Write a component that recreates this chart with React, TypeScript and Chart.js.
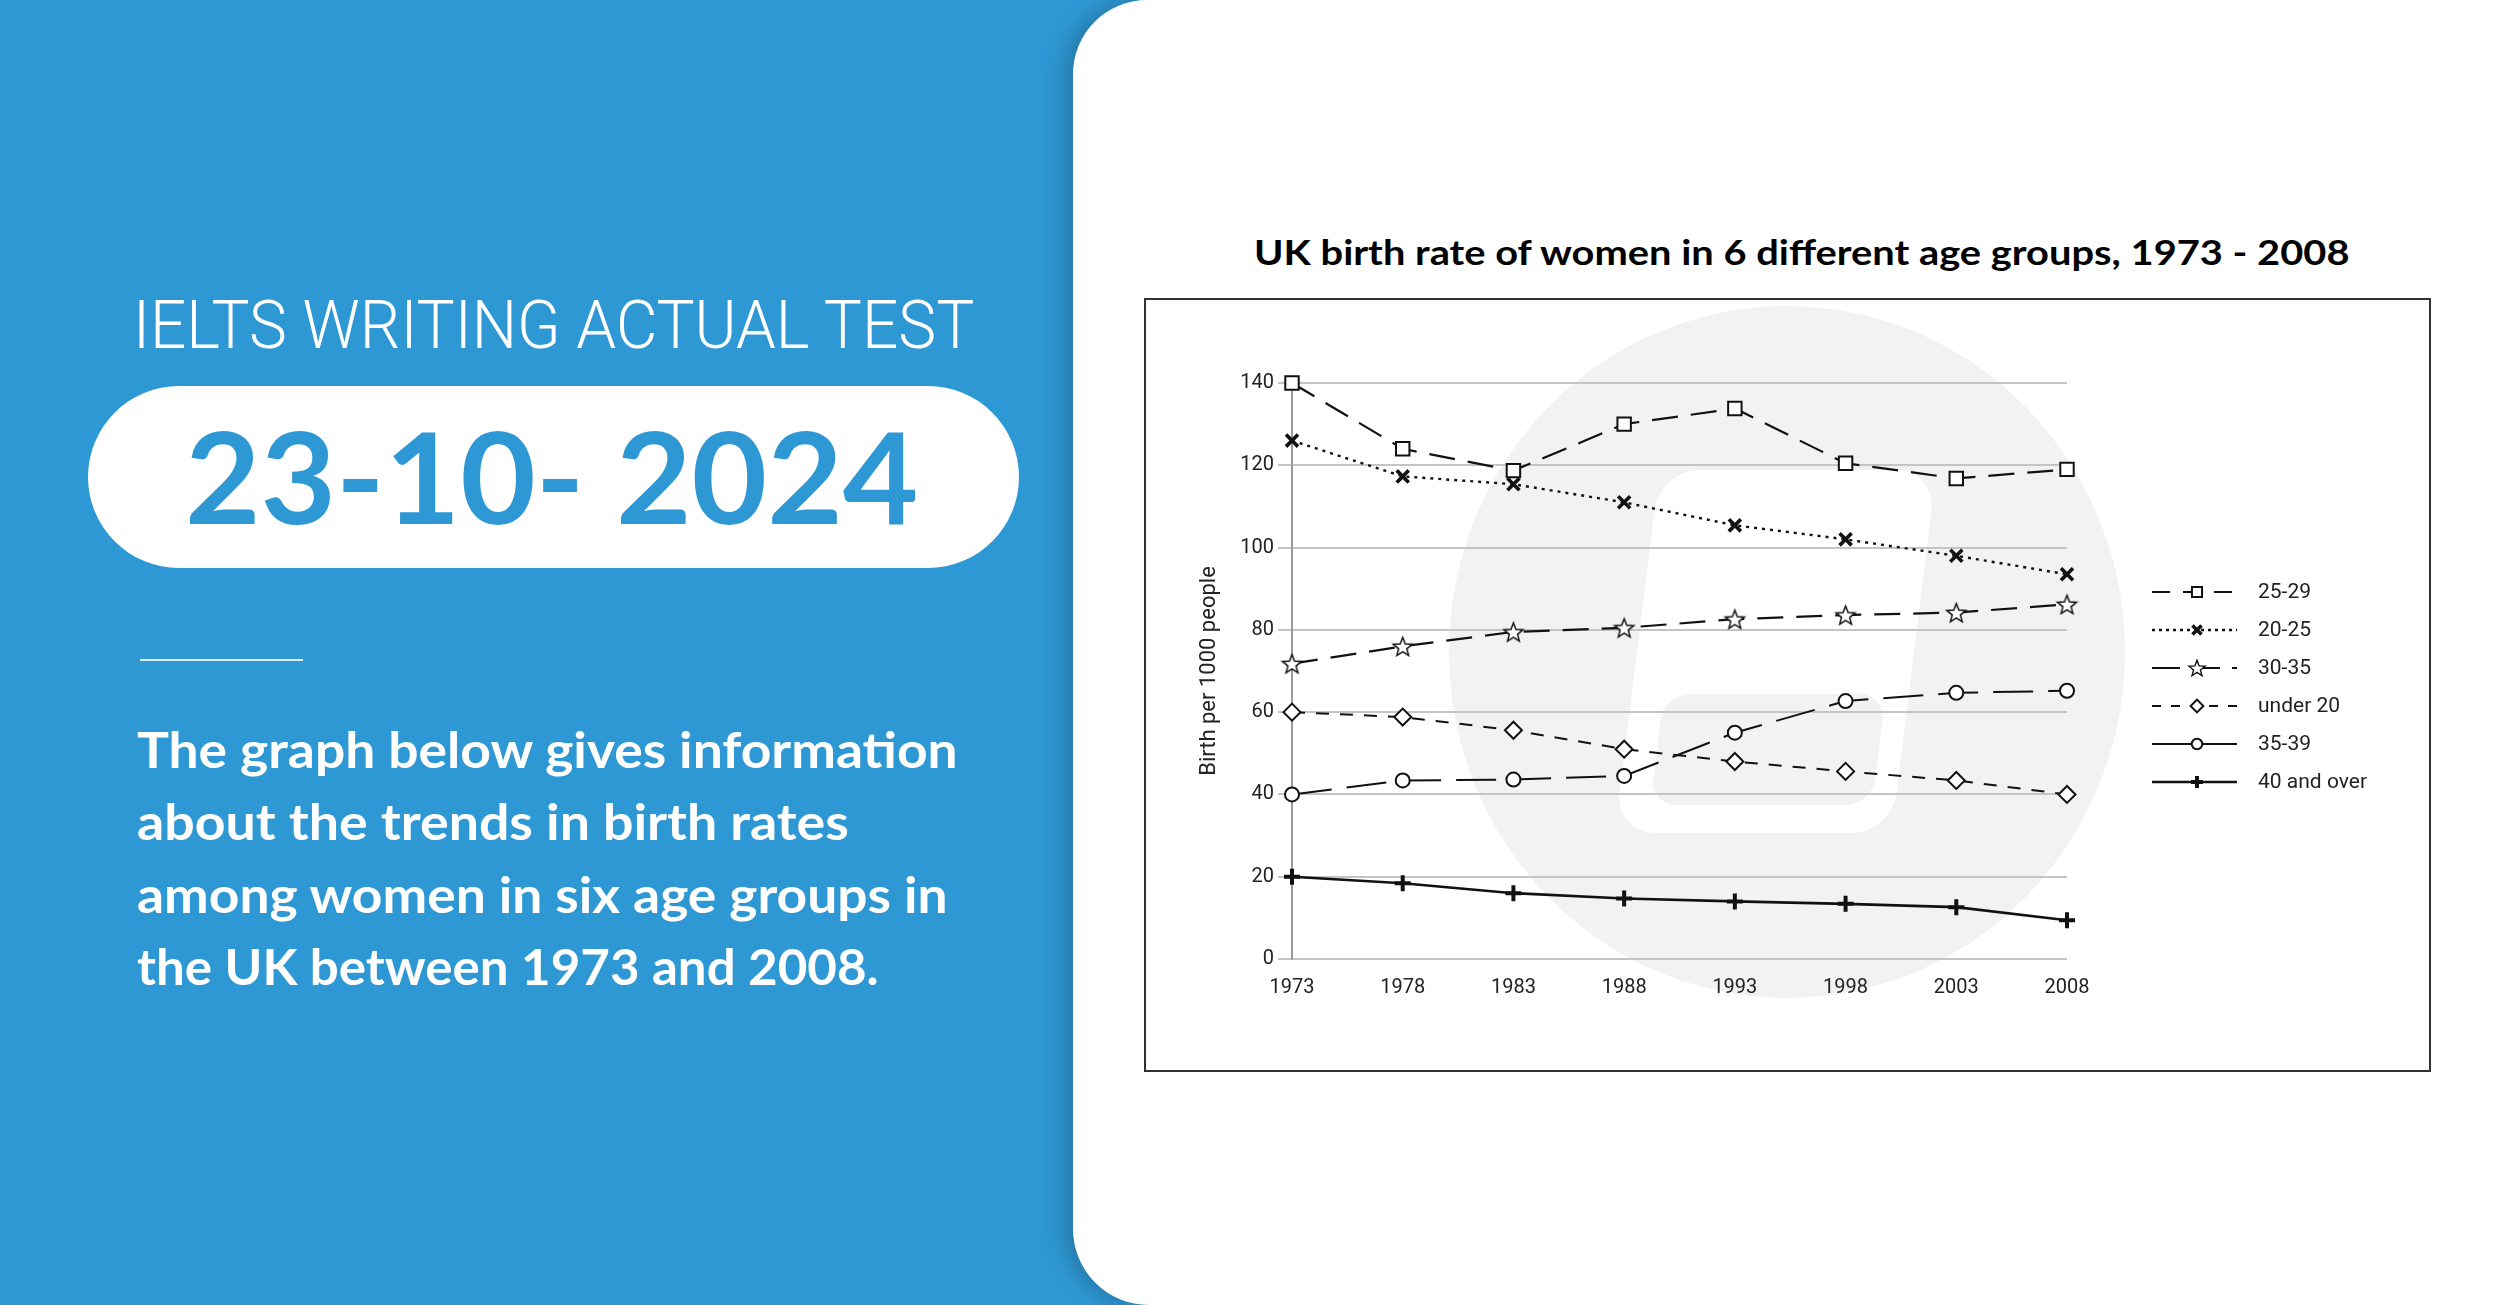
import React, { useEffect, useLayoutEffect, useRef, useState } from "react";
import { Chart, registerables } from "chart.js";
import { drawPoint } from "chart.js/helpers";

Chart.register(...registerables);

// ---------- chart data ----------
const years = ["1973", "1978", "1983", "1988", "1993", "1998", "2003", "2008"];
const seriesLabels = ["25-29", "20-25", "30-35", "under 20", "35-39", "40 and over"];
const rate25to29 = [140, 124, 118.7, 130, 133.8, 120.5, 116.8, 119];
const rate20to25 = [126, 117.3, 115.4, 111, 105.4, 102, 98, 93.5];
const rate30to35 = [71.8, 76, 79.5, 80.5, 82.6, 83.6, 84.2, 86.2];
const rateUnder20 = [60, 58.8, 55.6, 51, 48, 45.6, 43.4, 40];
const rate35to39 = [40, 43.4, 43.6, 44.5, 55, 62.7, 64.7, 65.2];
const rate40plus = [20, 18.4, 16, 14.7, 14, 13.4, 12.6, 9.4];
const yMin = 0;
const yMax = 140;
const yStep = 20;

// ---------- page text ----------
const chartTitle = "UK birth rate of women in 6 different age groups, 1973 - 2008";
const yAxisTitle = "Birth per 1000 people";
const headline = "IELTS WRITING ACTUAL TEST";
const testDate = "23-10- 2024";
const introLines = [
  "The graph below gives information",
  "about the trends in birth rates",
  "among women in six age groups in",
  "the UK between 1973 and 2008.",
];

const BLUE = "#2E98D4";
const INK = "#111111";

// Draws a hollow five-pointed star for use as a point style.
function makeStar(outer: number, inner: number, lw: number): HTMLCanvasElement {
  const size = Math.ceil(outer * 2 + lw * 2 + 2);
  const c = document.createElement("canvas");
  c.width = size;
  c.height = size;
  const g = c.getContext("2d")!;
  const cx = size / 2;
  const cy = size / 2 + outer * 0.1;
  g.beginPath();
  for (let i = 0; i < 10; i++) {
    const r = i % 2 === 0 ? outer : inner;
    const a = -Math.PI / 2 + (i * Math.PI) / 5;
    const px = cx + r * Math.cos(a);
    const py = cy + r * Math.sin(a);
    if (i === 0) g.moveTo(px, py);
    else g.lineTo(px, py);
  }
  g.closePath();
  g.fillStyle = "#fff";
  g.fill();
  g.lineJoin = "miter";
  g.lineWidth = lw;
  g.strokeStyle = INK;
  g.stroke();
  return c;
}

// Text that is stretched horizontally to a given width.
function FitText(props: {
  text: string;
  left: number;
  top: number;
  width: number;
  font: string;
  color: string;
}) {
  const ref = useRef<HTMLSpanElement>(null);
  const [sx, setSx] = useState(1);
  useLayoutEffect(() => {
    const w = ref.current ? ref.current.offsetWidth : 0;
    if (w > 0) setSx(props.width / w);
  }, [props.text, props.width, props.font]);
  return (
    <span
      ref={ref}
      style={{
        position: "absolute",
        left: props.left,
        top: props.top,
        display: "inline-block",
        whiteSpace: "nowrap",
        font: props.font,
        lineHeight: 1,
        color: props.color,
        transform: `scaleX(${sx})`,
        transformOrigin: "left top",
      }}
    >
      {props.text}
    </span>
  );
}

function BirthRateChart() {
  const ref = useRef<HTMLCanvasElement>(null);

  useEffect(() => {
    const star = makeStar(10, 4.3, 1.5);
    const legendStar = makeStar(8.5, 3.6, 1.4);

    const series = [
      { data: rate25to29, dash: [26, 13], legendDash: [18, 13], style: "rect", radius: 9.5, pbw: 2, lw: 2.2 },
      { data: rate20to25, dash: [3, 5], legendDash: [3, 4], style: "crossRot", radius: 8.5, pbw: 3.6, lw: 2.4 },
      { data: rate30to35, dash: [26, 13], legendDash: [28, 12], style: star as any, radius: 9, pbw: 1.5, lw: 2.2 },
      { data: rateUnder20, dash: [13, 11], legendDash: [9, 10], style: "rectRot", radius: 8.5, pbw: 2, lw: 2 },
      { data: rate35to39, dash: [40, 15], legendDash: [], style: "circle", radius: 7, pbw: 2, lw: 2 },
      { data: rate40plus, dash: [], legendDash: [], style: "cross", radius: 8, pbw: 4, lw: 2.6 },
    ];

    const legendPlugin = {
      id: "sideLegend",
      afterDraw(chart: any) {
        const ctx = chart.ctx as CanvasRenderingContext2D;
        const x0 = 1006;
        const x1 = 1091;
        const xm = 1051;
        const xt = 1112;
        series.forEach((s, i) => {
          const y = 292 + i * 38;
          ctx.save();
          ctx.strokeStyle = INK;
          ctx.lineWidth = s.lw;
          ctx.setLineDash(s.legendDash);
          ctx.beginPath();
          ctx.moveTo(x0, y);
          ctx.lineTo(x1, y);
          ctx.stroke();
          ctx.setLineDash([]);
          ctx.fillStyle = "#fff";
          ctx.strokeStyle = INK;
          ctx.lineWidth = s.pbw;
          const legendStyle = typeof s.style === "string" ? s.style : legendStar;
          drawPoint(ctx, { pointStyle: legendStyle, rotation: 0, radius: s.radius * 0.75, borderWidth: s.pbw } as any, xm, y);
          ctx.fillStyle = "#222";
          ctx.font = "21px Roboto";
          ctx.textAlign = "left";
          ctx.textBaseline = "middle";
          ctx.fillText(seriesLabels[i], xt, y + 1);
          ctx.restore();
        });
      },
    };

    const chart = new Chart(ref.current!, {
      type: "line",
      data: {
        labels: years,
        datasets: series.map((s, i) => ({
          label: seriesLabels[i],
          data: s.data,
          borderColor: INK,
          backgroundColor: "#fff",
          borderWidth: s.lw,
          borderDash: s.dash,
          tension: 0,
          fill: false,
          pointStyle: s.style,
          pointRadius: s.radius,
          pointBorderWidth: s.pbw,
          pointBackgroundColor: "#fff",
          pointBorderColor: INK,
          clip: false as any,
        })),
      },
      options: {
        animation: false,
        responsive: false,
        maintainAspectRatio: false,
        layout: { padding: { top: 83, right: 362, left: 0, bottom: 0 } },
        plugins: {
          legend: { display: false },
          tooltip: { enabled: false },
          title: { display: false },
        },
        scales: {
          x: {
            type: "category",
            offset: false,
            grid: { display: false, drawTicks: false },
            border: { display: false },
            ticks: {
              color: "#222",
              font: { family: "Roboto", size: 20 },
              padding: 17,
              maxRotation: 0,
              autoSkip: false,
            },
            afterFit: (s: any) => {
              s.height = 111;
            },
          },
          y: {
            min: yMin,
            max: yMax,
            ticks: {
              stepSize: yStep,
              color: "#222",
              font: { family: "Roboto", size: 20 },
              padding: 4,
            },
            grid: { color: "#c4c4c4", lineWidth: 2, tickLength: 14, drawTicks: true },
            border: { display: true, color: "#9a9a9a", width: 2 },
            title: {
              display: true,
              text: yAxisTitle,
              color: "#222",
              font: { family: "Roboto", size: 22 },
              padding: { top: 50, bottom: 0 },
            },
            afterFit: (s: any) => {
              s.width = 146;
            },
          },
        },
      } as any,
      plugins: [legendPlugin],
    });
    return () => chart.destroy();
  }, []);

  return <canvas ref={ref} width={1283} height={770} style={{ display: "block" }} />;
}

// Faint logo mark behind the plot.
function Watermark() {
  const skew = "translate(1776 652) skewX(-7) translate(-1776 -652)";
  return (
    <svg
      width={2501}
      height={1305}
      style={{ position: "absolute", left: 0, top: 0 }}
    >
      <ellipse cx={1787} cy={652} rx={338} ry={346} fill="#f2f2f2" />
      <g transform={skew}>
        <rect x={1637} y={470} width={277} height={363} rx={40} fill="#ffffff" />
        <rect x={1669} y={694} width={222} height={111} rx={26} fill="#f2f2f2" />
      </g>
    </svg>
  );
}

export default function App() {
  return (
    <div
      style={{
        position: "fixed",
        left: 0,
        top: 0,
        width: 2501,
        height: 1305,
        background: BLUE,
        overflow: "hidden",
      }}
    >
      <FitText text={headline} left={133} top={293} width={841} font="300 66px Roboto" color="#fff" />
      <div
        style={{
          position: "absolute",
          left: 88,
          top: 386,
          width: 931,
          height: 182,
          borderRadius: 91,
          background: "#fff",
        }}
      />
      <FitText text={testDate} left={185} top={413} width={733} font="700 126px Lato" color={BLUE} />
      <div
        style={{
          position: "absolute",
          left: 140,
          top: 659,
          width: 163,
          height: 2,
          background: "rgba(255,255,255,0.85)",
        }}
      />
      {introLines.map((line, i) => (
        <FitText
          key={i}
          text={line}
          left={137}
          top={[725, 797, 870, 942][i]}
          width={[821, 712, 811, 742][i]}
          font="700 49px Lato"
          color="#fff"
        />
      ))}

      <div
        style={{
          position: "absolute",
          left: 1073,
          top: 0,
          right: 0,
          bottom: 0,
          background: "#fff",
          borderTopLeftRadius: 74,
          borderBottomLeftRadius: 76,
          boxShadow: "-8px 0 22px rgba(0,0,0,0.22)",
        }}
      />
      <Watermark />
      <FitText text={chartTitle} left={1254} top={235} width={1095} font="700 34px Lato" color="#000" />
      <div
        style={{
          position: "absolute",
          left: 1144,
          top: 298,
          width: 1287,
          height: 774,
          boxSizing: "border-box",
          border: "2px solid #333",
        }}
      >
        <BirthRateChart />
      </div>
    </div>
  );
}
